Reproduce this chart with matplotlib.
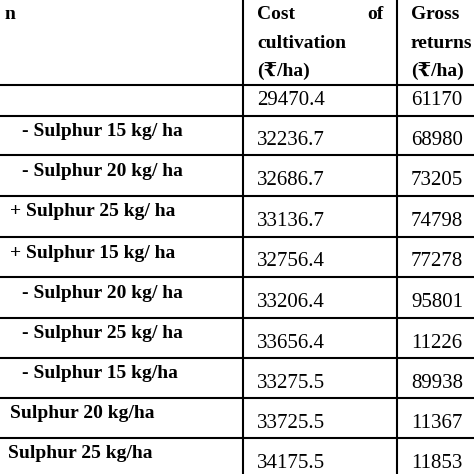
import matplotlib.pyplot as plt

plt.rcParams['font.family'] = ['Liberation Serif', 'DejaVu Serif', 'DejaVu Sans']

labels = ['', '- Sulphur 15 kg/ ha', '- Sulphur 20 kg/ ha', '+ Sulphur 25 kg/ ha',
          '+ Sulphur 15 kg/ ha', '- Sulphur 20 kg/ ha', '- Sulphur 25 kg/ ha',
          '- Sulphur 15 kg/ha', 'Sulphur 20 kg/ha', 'Sulphur 25 kg/ha']
label_x = [0, 22, 22, 10, 10, 22, 22, 22, 10, 8]
cost = ['29470.4', '32236.7', '32686.7', '33136.7', '32756.4', '33206.4',
        '33656.4', '33275.5', '33725.5', '34175.5']
gross = ['61170', '68980', '73205', '74798', '77278', '95801',
         '11226', '89938', '11367', '11853']
row_lines = [85, 116, 155, 196, 237, 277, 318, 358, 398, 438, 478]

fig = plt.figure(figsize=(4.74, 4.74), dpi=100)
ax = fig.add_axes([0, 0, 1, 1])
ax.set_xlim(0, 474)
ax.set_ylim(474, 0)
ax.axis('off')

for y in row_lines:
    ax.plot([0, 474], [y, y], color='black', lw=1.5)
for x in [243, 397]:
    ax.plot([x, x], [0, 474], color='black', lw=1.5)

ax.text(5, 14, 'n', fontsize=14, fontweight='bold', va='center')
ax.text(257, 14, 'Cost', fontsize=14, fontweight='bold', va='center')
ax.text(384, 14, 'of', fontsize=14, fontweight='bold', va='center', ha='right')
ax.text(257, 43, 'cultivation', fontsize=14, fontweight='bold', va='center')
ax.text(257, 72, '(₹/ha)', fontsize=14, fontweight='bold', va='center')
ax.text(411, 14, 'Gross', fontsize=14, fontweight='bold', va='center')
ax.text(411, 43, 'returns', fontsize=14, fontweight='bold', va='center')
ax.text(411, 72, '(₹/ha)', fontsize=14, fontweight='bold', va='center')

for i in range(len(cost)):
    top, bot = row_lines[i], row_lines[i + 1]
    ty = top + 16 if i > 0 else (top + bot) / 2
    ny = (top + bot) / 2 + (5 if i > 0 else 0)
    ax.text(label_x[i], ty, labels[i], fontsize=14, fontweight='bold', va='center')
    ax.text(257, ny, cost[i], fontsize=15, va='center')
    ax.text(411, ny, gross[i], fontsize=15, va='center')

fig.savefig('out.png', dpi=100)
